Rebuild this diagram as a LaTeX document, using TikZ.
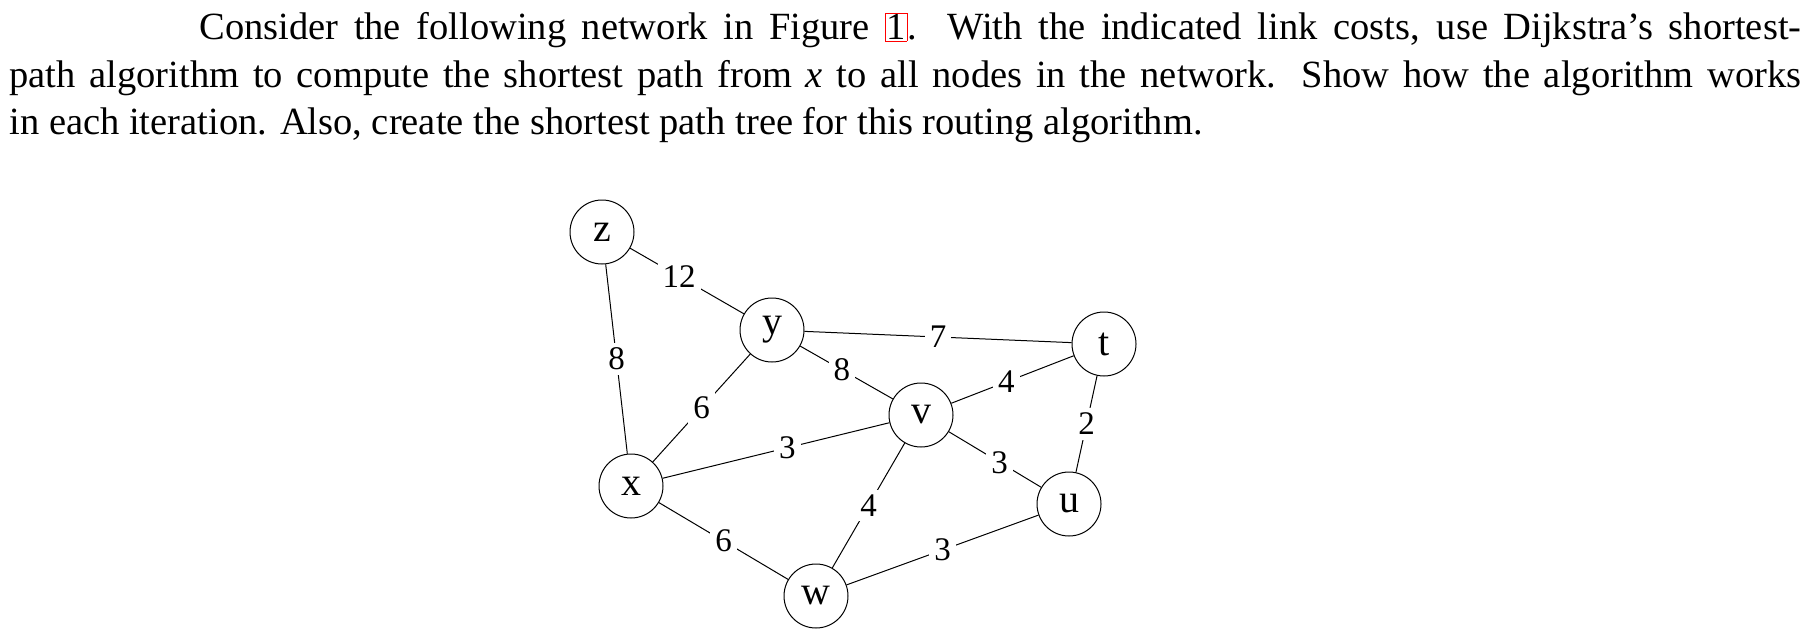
\documentclass[tikz,border=0pt]{standalone}
\usepackage{fontspec}
\setmainfont{Liberation Serif}
\begin{document}
\begin{tikzpicture}[x=1pt,y=-1pt,
  vtx/.style={draw,circle,minimum size=64pt,inner sep=0pt,font=\fontsize{40}{44}\selectfont,line width=1pt},
  el/.style={fill=white,inner sep=5pt,font=\fontsize{33}{36}\selectfont},
  every path/.style={line width=1pt}]
\useasboundingbox (0,0) rectangle (1807,634);
\node[anchor=north west,inner sep=0pt,text width=1792pt,align=justify,font=\fontsize{38.5}{47.5}\selectfont] (txt) at (9,12)
{\hspace*{190pt}Consider the following network in Figure {\color{red}\setlength{\fboxsep}{1pt}\fbox{\color{black}1}}. With the indicated link costs, use Dijkstra's shortest-\linebreak path algorithm to compute the shortest path from \textit{x} to all nodes in the network. Show how the algorithm works\linebreak in each iteration. Also, create the shortest path tree for this routing algorithm.};
\node[vtx] (z) at (602,232) {z};
\node[vtx] (y) at (772,330) {y};
\node[vtx] (t) at (1104,344) {t};
\node[vtx] (v) at (921,415) {v};
\node[vtx] (x) at (631,486) {x};
\node[vtx] (u) at (1069,504) {u};
\node[vtx] (w) at (816,596) {w};
\draw (z) -- node[el,pos=0.43] (l1) {12} (y);
\draw (z) -- node[el] (l2) {8} (x);
\draw (y) -- node[el] (l3) {7} (t);
\draw (y) -- node[el,pos=0.45] (l4) {8} (v);
\draw (x) -- node[el] (l5) {6} (y);
\draw (v) -- node[el,pos=0.45] (l6) {4} (t);
\draw (t) -- node[el] (l7) {2} (u);
\draw (x) -- node[el,pos=0.55] (l8) {3} (v);
\draw (v) -- node[el,pos=0.55] (l9) {3} (u);
\draw (v) -- node[el] (l10) {4} (w);
\draw (x) -- node[el] (l11) {6} (w);
\draw (w) -- node[el] (l12) {3} (u);
\end{tikzpicture}
\end{document}
